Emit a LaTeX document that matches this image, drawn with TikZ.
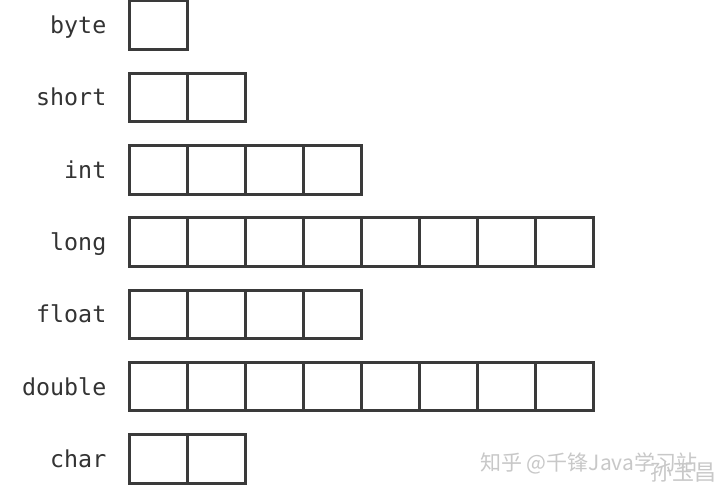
\documentclass[tikz,border=0pt]{standalone}
\usepackage{fontspec}
\setmonofont{DejaVu Sans Mono}
\newfontfamily\cjkfont{Noto Sans CJK SC}
\definecolor{boxline}{HTML}{3A3A3A}
\definecolor{labeltext}{HTML}{333333}
\definecolor{wmark}{HTML}{C8C8C8}
\tikzset{
  cellbox/.style={draw=boxline, line width=3pt, rectangle, minimum width=58.1pt, minimum height=48.5pt, inner sep=0pt, fill=none},
  typelabel/.style={anchor=base east, inner sep=0pt, text=labeltext, font=\ttfamily\fontsize{23.3}{28}\selectfont},
  wmtext/.style={inner sep=0pt, text=wmark, font=\cjkfont\fontsize{21}{24}\selectfont}
}
\begin{document}
\begin{tikzpicture}[x=1pt,y=-1pt]
\useasboundingbox (0,0) rectangle (720,492);
\fill[white] (0,0) rectangle (720,492);
\foreach \nm/\n/\r in {byte/1/0, short/2/1, int/4/2, long/8/3, float/4/4, double/8/5, char/2/6}{
  \pgfmathsetmacro{\yc}{25.2+72.3*\r}
  \node[typelabel] (lbl-\nm) at (106.5,\yc+8.5) {\nm};
  \foreach \i in {1,...,\n}{
    \node[cellbox] (cell-\nm-\i) at ({129+58.1*(\i-0.5)},\yc) {};
  }
}
\node[wmtext, anchor=west] (wm1) at (480,463) {知乎 @千锋Java学习站};
\node[wmtext, anchor=west, font=\cjkfont\fontsize{22}{24}\selectfont] (wm2) at (650,472) {孙玉昌};
\end{tikzpicture}
\end{document}
